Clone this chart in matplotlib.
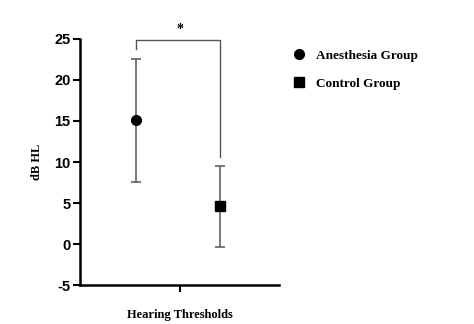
import matplotlib.pyplot as plt
from matplotlib.lines import Line2D

plt.rcParams['axes.unicode_minus'] = False

groups = ['Anesthesia Group', 'Control Group']
means = [15.1, 4.6]
lower = [7.6, -0.35]
upper = [22.6, 9.5]
markers = ['o', 's']
xpos = [-0.44, 0.41]

fig = plt.figure(figsize=(4.74, 3.24), dpi=100)
ax = fig.add_axes([0.169, 0.120, 0.420, 0.760])

for x, m, lo, hi, mk in zip(xpos, means, lower, upper, markers):
    ax.errorbar([x], [m], yerr=[[m - lo], [hi - m]], fmt=mk, color='black',
                ecolor='#555555', elinewidth=1.1, capsize=3.5, capthick=1.1,
                markersize=7)

# significance bracket
ax.plot([xpos[0], xpos[0], xpos[1], xpos[1]], [23.8, 24.9, 24.9, 10.6],
        color='#555555', lw=1, clip_on=False)
ax.text(0, 25.4, '*', ha='center', va='bottom', fontsize=10,
        family='Liberation Serif', fontweight='bold')

ax.set_xlim(-1, 1)
ax.set_ylim(-5, 25)
ax.set_yticks([-5, 0, 5, 10, 15, 20, 25])
ax.set_xticks([0])
ax.set_xticklabels([''])
ax.spines['top'].set_visible(False)
ax.spines['right'].set_visible(False)
for s in ['left', 'bottom']:
    ax.spines[s].set_linewidth(1.8)
ax.tick_params(width=1.5, length=5, labelsize=10.5, pad=2)
for lab in ax.get_yticklabels():
    lab.set_family('Liberation Sans')
    lab.set_fontweight('bold')

ax.set_ylabel('dB HL', family='Liberation Serif', fontweight='bold', fontsize=9, labelpad=8)
ax.set_xlabel('Hearing Thresholds', family='Liberation Serif', fontweight='bold', fontsize=9, labelpad=10)

handles = [Line2D([], [], ls='none', marker=mk, color='black', markersize=7)
           for mk in markers]
ax.legend(handles, groups, loc='upper left', bbox_to_anchor=(1.0, 1.005), frameon=False,
          prop={'family': 'Liberation Serif', 'weight': 'bold', 'size': 9.5},
          handletextpad=0.7, labelspacing=1.2, handlelength=1.2)

fig.savefig('out.png', dpi=100)
